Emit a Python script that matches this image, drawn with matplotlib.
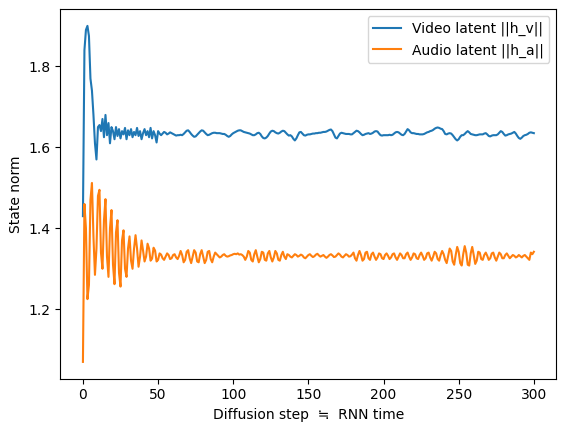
import numpy as np
import matplotlib
matplotlib.use("Agg")
import matplotlib.pyplot as plt

# norm of the video latent, one value per step
h_v = [
    1.430, 1.840, 1.890, 1.900, 1.875, 1.770, 1.740, 1.680, 1.610, 1.570,
    1.650, 1.655, 1.640, 1.670, 1.625, 1.680, 1.630, 1.660, 1.610, 1.650,
    1.640, 1.620, 1.650, 1.628, 1.645, 1.622, 1.640, 1.632, 1.648, 1.620,
    1.642, 1.630, 1.645, 1.625, 1.638, 1.630, 1.648, 1.628, 1.640, 1.620,
    1.635, 1.645, 1.630, 1.640, 1.625, 1.648, 1.622, 1.640, 1.630, 1.612,
    1.640, 1.634, 1.630, 1.634, 1.638, 1.636, 1.632, 1.634, 1.637, 1.635,
    1.633, 1.631, 1.629, 1.630, 1.630, 1.631, 1.630, 1.633, 1.637, 1.641,
    1.642, 1.638, 1.633, 1.629, 1.626, 1.627, 1.631, 1.635, 1.639, 1.642,
    1.641, 1.637, 1.633, 1.630, 1.631, 1.633, 1.635, 1.636, 1.636, 1.635,
    1.635, 1.635, 1.634, 1.633, 1.633, 1.631, 1.628, 1.626, 1.628, 1.632,
    1.635, 1.637, 1.639, 1.641, 1.642, 1.642, 1.640, 1.638, 1.637, 1.636,
    1.635, 1.634, 1.632, 1.630, 1.630, 1.632, 1.635, 1.636, 1.633, 1.627,
    1.623, 1.622, 1.624, 1.628, 1.634, 1.639, 1.641, 1.640, 1.637, 1.635,
    1.634, 1.636, 1.639, 1.641, 1.640, 1.636, 1.632, 1.629, 1.630, 1.627,
    1.621, 1.617, 1.622, 1.630, 1.637, 1.638, 1.634, 1.630, 1.629, 1.631,
    1.632, 1.632, 1.633, 1.634, 1.634, 1.635, 1.635, 1.636, 1.636, 1.637,
    1.638, 1.638, 1.639, 1.641, 1.643, 1.644, 1.640, 1.632, 1.624, 1.622,
    1.628, 1.634, 1.636, 1.635, 1.634, 1.633, 1.633, 1.633, 1.632, 1.632,
    1.635, 1.638, 1.641, 1.640, 1.637, 1.633, 1.630, 1.631, 1.633, 1.634,
    1.635, 1.633, 1.634, 1.636, 1.639, 1.640, 1.639, 1.634, 1.630, 1.629,
    1.630, 1.630, 1.630, 1.630, 1.631, 1.630, 1.631, 1.634, 1.637, 1.638,
    1.637, 1.634, 1.631, 1.630, 1.633, 1.639, 1.645, 1.642, 1.637, 1.635,
    1.635, 1.634, 1.633, 1.633, 1.632, 1.632, 1.632, 1.633, 1.635, 1.637,
    1.638, 1.640, 1.641, 1.643, 1.646, 1.648, 1.649, 1.648, 1.646, 1.645,
    1.640, 1.633, 1.632, 1.634, 1.635, 1.634, 1.630, 1.625, 1.620, 1.617,
    1.620, 1.626, 1.630, 1.630, 1.633, 1.637, 1.640, 1.637, 1.633, 1.632,
    1.631, 1.630, 1.630, 1.631, 1.632, 1.632, 1.632, 1.634, 1.635, 1.632,
    1.628, 1.627, 1.629, 1.630, 1.630, 1.630, 1.632, 1.636, 1.640, 1.638,
    1.633, 1.629, 1.630, 1.632, 1.633, 1.634, 1.636, 1.638, 1.634, 1.628,
    1.623, 1.621, 1.624, 1.628, 1.630, 1.631, 1.633, 1.636, 1.637, 1.636,
    1.635,
]

# norm of the audio latent
h_a = [
    1.070, 1.460, 1.400, 1.225, 1.260, 1.470, 1.512, 1.380, 1.285, 1.350,
    1.480, 1.495, 1.340, 1.300, 1.420, 1.472, 1.330, 1.280, 1.400, 1.445,
    1.310, 1.262, 1.390, 1.420, 1.290, 1.256, 1.370, 1.395, 1.300, 1.280,
    1.350, 1.380, 1.320, 1.300, 1.350, 1.383, 1.350, 1.305, 1.330, 1.370,
    1.345, 1.318, 1.330, 1.362, 1.350, 1.320, 1.325, 1.352, 1.345, 1.318,
    1.322,
    1.338, 1.335, 1.326, 1.322, 1.330, 1.338, 1.334, 1.324, 1.326, 1.334,
    1.336, 1.328, 1.324, 1.332,
    1.344, 1.334, 1.316, 1.322, 1.342, 1.346, 1.326, 1.314, 1.330, 1.346,
    1.340, 1.318, 1.316, 1.336, 1.346, 1.330, 1.314, 1.322, 1.342, 1.344,
    1.324, 1.316, 1.330, 1.340,
    1.336, 1.332, 1.328, 1.330, 1.334, 1.336, 1.332, 1.330, 1.331, 1.333,
    1.334, 1.336, 1.337, 1.336, 1.338, 1.335, 1.336, 1.334, 1.330,
    1.322, 1.330, 1.344, 1.340, 1.322, 1.318, 1.336, 1.346, 1.330, 1.316,
    1.324, 1.342, 1.340, 1.322, 1.320, 1.338, 1.344, 1.328, 1.318, 1.328,
    1.344, 1.338, 1.322, 1.320, 1.334, 1.342, 1.330, 1.324,
    1.336, 1.334, 1.330, 1.328, 1.332, 1.336, 1.334, 1.330, 1.332, 1.335,
    1.333, 1.328, 1.326, 1.330, 1.334, 1.336, 1.332, 1.329, 1.331, 1.335,
    1.337, 1.333, 1.330, 1.332, 1.334, 1.330, 1.327, 1.330, 1.334, 1.336,
    1.333, 1.329, 1.330, 1.334, 1.338, 1.335, 1.330, 1.328, 1.332, 1.336,
    1.334, 1.330, 1.331, 1.335,
    1.340, 1.326, 1.320, 1.334, 1.344, 1.334, 1.320, 1.324, 1.340, 1.342,
    1.326, 1.322,
    1.336, 1.340, 1.330, 1.322, 1.328, 1.338, 1.336, 1.326, 1.324, 1.334,
    1.338, 1.332, 1.324, 1.328, 1.336, 1.338, 1.328, 1.322, 1.330, 1.338,
    1.334, 1.326, 1.326, 1.336, 1.340, 1.330, 1.322, 1.328, 1.338, 1.336,
    1.326, 1.324, 1.334, 1.340, 1.332, 1.322, 1.326, 1.338, 1.340, 1.328,
    1.320, 1.330, 1.342, 1.338, 1.324, 1.320, 1.334, 1.344, 1.336,
    1.322, 1.314, 1.332, 1.350, 1.344, 1.318, 1.310, 1.334, 1.354, 1.342,
    1.314, 1.308, 1.336, 1.356, 1.340, 1.310, 1.308, 1.338, 1.354, 1.334,
    1.312, 1.320, 1.342,
    1.340, 1.324, 1.322, 1.334, 1.340, 1.332, 1.322, 1.326, 1.338, 1.340,
    1.328, 1.320, 1.330, 1.340, 1.336, 1.326, 1.326, 1.334, 1.338, 1.332,
    1.326, 1.330, 1.334, 1.332, 1.328, 1.330, 1.334, 1.331, 1.328, 1.332,
    1.334, 1.330, 1.326, 1.322, 1.340, 1.336, 1.342,
]

steps_v = np.arange(len(h_v))
steps_a = np.arange(len(h_a))

fig = plt.figure(figsize=(5.67, 4.32), dpi=100)
ax = fig.add_axes([0.1065, 0.1234, 0.8748, 0.8556])
ax.plot(steps_v, h_v, label="Video latent ||h_v||")
ax.plot(steps_a, h_a, label="Audio latent ||h_a||")
ax.set_xlabel("Diffusion step  \u2252  RNN time")
ax.set_ylabel("State norm")
ax.legend()
fig.savefig("out.png", dpi=100)
